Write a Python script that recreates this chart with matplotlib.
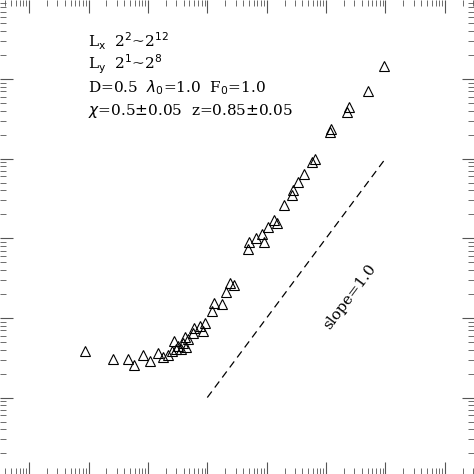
import matplotlib.pyplot as plt
import numpy as np

# log10 values
log_x = [0.94, 1.41, 1.66, 1.76, 1.92, 2.03, 2.17, 2.25, 2.34, 2.40, 2.44, 2.47, 2.50,
         2.55, 2.59, 2.62, 2.64, 2.67, 2.76, 2.77, 2.87, 2.92, 2.96, 3.08, 3.11, 3.24,
         3.31, 3.38, 3.45, 3.68, 3.71, 3.82, 3.92, 3.95, 4.02, 4.13, 4.18, 4.29, 4.42,
         4.45, 4.52, 4.62, 4.77, 4.82, 5.06, 5.09, 5.36, 5.39, 5.70, 5.98]
log_y = [0.58, 0.48, 0.48, 0.41, 0.53, 0.46, 0.56, 0.51, 0.53, 0.58, 0.71, 0.61, 0.65,
         0.61, 0.68, 0.76, 0.63, 0.73, 0.81, 0.87, 0.90, 0.84, 0.94, 1.09, 1.19, 1.18,
         1.32, 1.44, 1.41, 1.87, 1.95, 2.00, 2.05, 1.95, 2.14, 2.23, 2.19, 2.42, 2.54,
         2.61, 2.71, 2.80, 2.96, 3.00, 3.33, 3.37, 3.58, 3.65, 3.85, 4.16]
slope_x = [1e3, 1e6]
slope_y = [1e0, 1e3]

x = 10 ** np.array(log_x)
y = 10 ** np.array(log_y)

fig = plt.figure(figsize=(4.74, 4.74), dpi=100)
ax = fig.add_axes([0, 0, 1, 1])
ax.plot(x, y, linestyle="none", marker="^", markersize=7, markerfacecolor="none",
        markeredgecolor="black", markeredgewidth=0.8)
ax.plot(slope_x, slope_y, color="black", linestyle=(0, (6, 4)), linewidth=0.9)

ax.set_xscale("log")
ax.set_yscale("log")
ax.set_xlim(10 ** -0.49, 10 ** 7.49)
ax.set_ylim(10 ** -0.96, 10 ** 4.99)
for side in ax.spines.values():
    side.set_visible(False)
ax.tick_params(which="both", direction="in", top=True, right=True,
               labelbottom=False, labelleft=False, color="#555555")
ax.tick_params(which="major", length=9, width=0.8)
ax.tick_params(which="minor", length=4, width=0.6)

font = dict(family="DejaVu Serif", fontsize=11)
ax.text(0.185, 0.900, r"L$_{\rm x}$  2$^{2}$~2$^{12}$", transform=ax.transAxes, **font)
ax.text(0.185, 0.853, r"L$_{\rm y}$  2$^{1}$~2$^{8}$", transform=ax.transAxes, **font)
ax.text(0.185, 0.805, r"D=0.5  $\lambda_0$=1.0  F$_0$=1.0", transform=ax.transAxes, **font)
ax.text(0.185, 0.757, r"$\chi$=0.5$\pm$0.05  z=0.85$\pm$0.05", transform=ax.transAxes, **font)
ax.text(0.678, 0.305, "slope=1.0", transform=ax.transAxes, rotation=53, **font)

fig.savefig("out.png", dpi=100)
